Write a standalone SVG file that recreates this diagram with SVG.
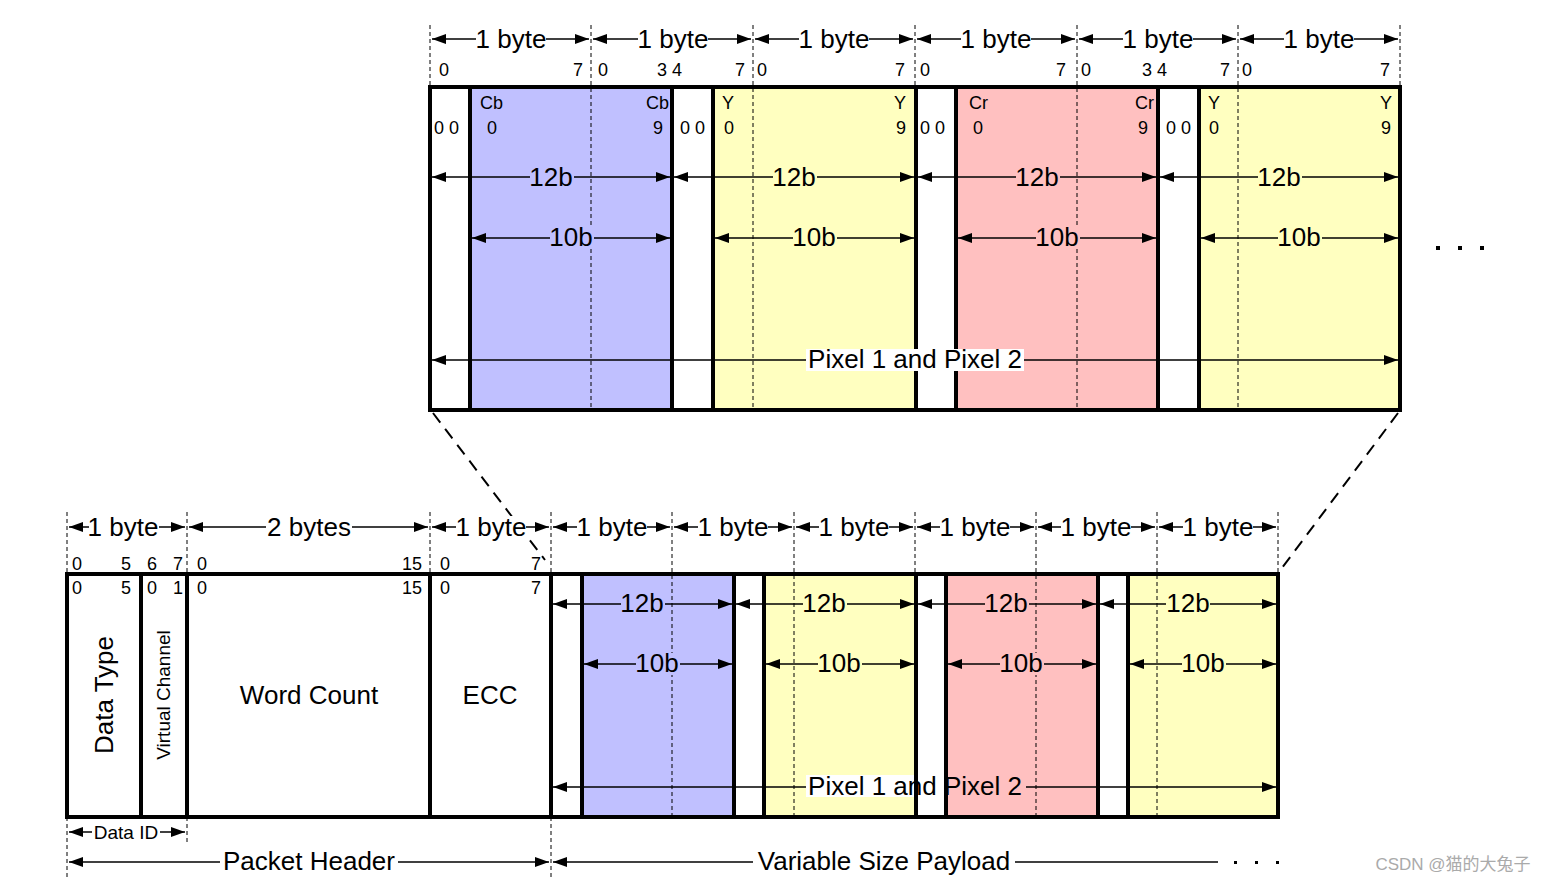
<svg xmlns="http://www.w3.org/2000/svg" width="1553" height="883" viewBox="0 0 1553 883">
<style>
text{font-family:"Liberation Sans",Arial,sans-serif;fill:#000}
.b{font-size:26px;text-anchor:middle}
.s{font-size:18px}
.m{text-anchor:middle}
.e{text-anchor:end}
.box{fill:none;stroke:#000;stroke-width:4}
.sep{stroke:#000;stroke-width:4}
.dash{stroke:#000;stroke-width:1;stroke-dasharray:4,3}
.arr{stroke:#000;stroke-width:1.3;fill:none;marker-start:url(#a);marker-end:url(#a)}
.bl{fill:#c0c0ff}.ye{fill:#ffffc0}.pk{fill:#ffc0c0}.wh{fill:#fff}
</style>
<defs>
<marker id="a" viewBox="0 0 14 10" refX="14" refY="5" markerWidth="14" markerHeight="10" markerUnits="userSpaceOnUse" orient="auto-start-reverse"><path d="M0,0L14,5L0,10z" fill="#000"/></marker>
</defs>

<g id="top-packet">
<rect class="bl" x="470" y="87" width="202" height="323"/>
<rect class="ye" x="713" y="87" width="203" height="323"/>
<rect class="pk" x="956" y="87" width="202" height="323"/>
<rect class="ye" x="1199" y="87" width="201" height="323"/>
<g class="dash">
<line x1="430" y1="25" x2="430" y2="87"/><line x1="591" y1="25" x2="591" y2="410"/><line x1="753" y1="25" x2="753" y2="410"/><line x1="915" y1="25" x2="915" y2="87"/><line x1="1077" y1="25" x2="1077" y2="410"/><line x1="1238" y1="25" x2="1238" y2="410"/><line x1="1400" y1="25" x2="1400" y2="87"/>
</g>
<rect class="box" x="430" y="87" width="970" height="323"/>
<g class="sep"><line x1="470" y1="87" x2="470" y2="410"/><line x1="672" y1="87" x2="672" y2="410"/><line x1="713" y1="87" x2="713" y2="410"/><line x1="916" y1="87" x2="916" y2="410"/><line x1="956" y1="87" x2="956" y2="410"/><line x1="1158" y1="87" x2="1158" y2="410"/><line x1="1199" y1="87" x2="1199" y2="410"/></g>
<g class="s">
<text x="439" y="76">0</text><text x="573" y="76">7</text><text x="598" y="76">0</text><text x="657" y="76">3 4</text><text x="735" y="76">7</text><text x="757" y="76">0</text><text x="895" y="76">7</text><text x="920" y="76">0</text><text x="1056" y="76">7</text><text x="1081" y="76">0</text><text x="1142" y="76">3 4</text><text x="1220" y="76">7</text><text x="1242" y="76">0</text><text x="1380" y="76">7</text>
<text x="434" y="134">0 0</text><text x="680" y="134">0 0</text><text x="920" y="134">0 0</text><text x="1166" y="134">0 0</text>
<text x="480" y="109">Cb</text><text x="487" y="134">0</text><text x="669" y="109" class="e">Cb</text><text x="663" y="134" class="e">9</text>
<text x="722" y="109">Y</text><text x="724" y="134">0</text><text x="906" y="109" class="e">Y</text><text x="906" y="134" class="e">9</text>
<text x="969" y="109">Cr</text><text x="973" y="134">0</text><text x="1154" y="109" class="e">Cr</text><text x="1148" y="134" class="e">9</text>
<text x="1208" y="109">Y</text><text x="1209" y="134">0</text><text x="1392" y="109" class="e">Y</text><text x="1391" y="134" class="e">9</text>
</g>
<g fill="#000"><rect x="1436" y="246" width="4" height="4"/><rect x="1458" y="246" width="4" height="4"/><rect x="1480" y="246" width="4" height="4"/></g>
</g>

<g id="bottom-packet">
<rect class="bl" x="582" y="574" width="152" height="243"/>
<rect class="ye" x="764" y="574" width="152" height="243"/>
<rect class="pk" x="946" y="574" width="152" height="243"/>
<rect class="ye" x="1128" y="574" width="150" height="243"/>
<g class="dash">
<line x1="67" y1="512" x2="67" y2="574"/><line x1="187" y1="512" x2="187" y2="574"/><line x1="430" y1="512" x2="430" y2="574"/><line x1="551" y1="512" x2="551" y2="574"/><line x1="672" y1="512" x2="672" y2="817"/><line x1="794" y1="512" x2="794" y2="817"/><line x1="915" y1="512" x2="915" y2="574"/><line x1="1036" y1="512" x2="1036" y2="817"/><line x1="1157" y1="512" x2="1157" y2="817"/><line x1="1278" y1="512" x2="1278" y2="574"/>
<line x1="67" y1="817" x2="67" y2="880"/><line x1="187" y1="817" x2="187" y2="845"/><line x1="551" y1="817" x2="551" y2="880"/>
</g>
<rect class="box" x="67" y="574" width="1211" height="243"/>
<g class="sep"><line x1="141" y1="574" x2="141" y2="817"/><line x1="187" y1="574" x2="187" y2="817"/><line x1="430" y1="574" x2="430" y2="817"/><line x1="551" y1="574" x2="551" y2="817"/><line x1="582" y1="574" x2="582" y2="817"/><line x1="734" y1="574" x2="734" y2="817"/><line x1="764" y1="574" x2="764" y2="817"/><line x1="916" y1="574" x2="916" y2="817"/><line x1="946" y1="574" x2="946" y2="817"/><line x1="1098" y1="574" x2="1098" y2="817"/><line x1="1128" y1="574" x2="1128" y2="817"/></g>
<g class="s">
<text x="72" y="570">0</text><text x="121" y="570">5</text><text x="147" y="570">6</text><text x="173" y="570">7</text><text x="197" y="570">0</text><text x="402" y="570">15</text><text x="440" y="570">0</text><text x="531" y="570">7</text>
<text x="72" y="594">0</text><text x="121" y="594">5</text><text x="147" y="594">0</text><text x="173" y="594">1</text><text x="197" y="594">0</text><text x="402" y="594">15</text><text x="440" y="594">0</text><text x="531" y="594">7</text>
</g>
<text transform="translate(113,695) rotate(-90)" class="b">Data Type</text>
<text transform="translate(170,695) rotate(-90)" class="m" style="font-size:19px">Virtual Channel</text>
<text x="309" y="704" class="b">Word Count</text>
<text x="490" y="704" class="b">ECC</text>
<g fill="#000"><rect x="1234" y="861" width="3" height="3"/><rect x="1255" y="861" width="3" height="3"/><rect x="1276" y="861" width="3" height="3"/></g>
<text x="1453" y="870" class="m" style="font-size:17px;fill:#aaa;font-family:'Liberation Sans','Noto Sans CJK SC',sans-serif">CSDN @猫的大兔子</text>
</g>

<g id="connectors">
<g class="arr">
<line x1="432" y1="39" x2="589" y2="39"/><line x1="593" y1="39" x2="751" y2="39"/><line x1="755" y1="39" x2="913" y2="39"/><line x1="917" y1="39" x2="1075" y2="39"/><line x1="1079" y1="39" x2="1236" y2="39"/><line x1="1240" y1="39" x2="1398" y2="39"/>
<line x1="432" y1="177" x2="670" y2="177"/><line x1="674" y1="177" x2="914" y2="177"/><line x1="918" y1="177" x2="1156" y2="177"/><line x1="1160" y1="177" x2="1398" y2="177"/>
<line x1="472" y1="238" x2="670" y2="238"/><line x1="715" y1="238" x2="914" y2="238"/><line x1="958" y1="238" x2="1156" y2="238"/><line x1="1201" y1="238" x2="1398" y2="238"/>
<line x1="432" y1="360" x2="1398" y2="360"/>
<line x1="69" y1="527" x2="185" y2="527"/><line x1="189" y1="527" x2="428" y2="527"/><line x1="432" y1="527" x2="549" y2="527"/><line x1="553" y1="527" x2="670" y2="527"/><line x1="674" y1="527" x2="792" y2="527"/><line x1="796" y1="527" x2="913" y2="527"/><line x1="917" y1="527" x2="1034" y2="527"/><line x1="1038" y1="527" x2="1155" y2="527"/><line x1="1159" y1="527" x2="1276" y2="527"/>
<line x1="553" y1="604" x2="732" y2="604"/><line x1="736" y1="604" x2="914" y2="604"/><line x1="918" y1="604" x2="1096" y2="604"/><line x1="1100" y1="604" x2="1276" y2="604"/>
<line x1="584" y1="664" x2="732" y2="664"/><line x1="766" y1="664" x2="914" y2="664"/><line x1="948" y1="664" x2="1096" y2="664"/><line x1="1130" y1="664" x2="1276" y2="664"/>
<line x1="553" y1="787" x2="1276" y2="787"/>
<line x1="69" y1="832" x2="185" y2="832"/>
<line x1="69" y1="862" x2="549" y2="862"/>
</g>
<line x1="553" y1="862" x2="1218" y2="862" stroke="#000" stroke-width="1.3" marker-start="url(#a)"/>
<line x1="433" y1="413" x2="545" y2="560" stroke="#000" stroke-width="2" stroke-dasharray="12,8"/>
<line x1="1398" y1="413" x2="1282" y2="568" stroke="#000" stroke-width="2" stroke-dasharray="12,8"/>
</g>

<g id="connector-labels">
<g class="wh">
<rect x="476" y="28" width="70" height="22"/><rect x="638" y="28" width="70" height="22"/><rect x="799" y="28" width="70" height="22"/><rect x="961" y="28" width="70" height="22"/><rect x="1123" y="28" width="70" height="22"/><rect x="1284" y="28" width="70" height="22"/>
<rect x="806" y="349" width="218" height="22"/>
<rect x="89" y="516" width="70" height="22"/><rect x="266" y="516" width="86" height="22"/><rect x="456" y="516" width="70" height="22"/><rect x="577" y="516" width="70" height="22"/><rect x="698" y="516" width="70" height="22"/><rect x="819" y="516" width="70" height="22"/><rect x="940" y="516" width="70" height="22"/><rect x="1061" y="516" width="70" height="22"/><rect x="1183" y="516" width="70" height="22"/>
<rect x="92" y="823" width="68" height="18"/>
<rect x="220" y="851" width="178" height="22"/><rect x="753" y="851" width="262" height="22"/>
<rect x="806" y="775" width="108" height="22"/><rect x="918" y="775" width="26" height="22"/>
</g>
<g class="bl"><rect x="530" y="166" width="44" height="22"/><rect x="550" y="227" width="44" height="22"/><rect x="621" y="593" width="44" height="22"/><rect x="636" y="653" width="44" height="22"/></g>
<g class="ye"><rect x="773" y="166" width="44" height="22"/><rect x="793" y="227" width="44" height="22"/><rect x="1258" y="166" width="44" height="22"/><rect x="1278" y="227" width="44" height="22"/><rect x="803" y="593" width="44" height="22"/><rect x="818" y="653" width="44" height="22"/><rect x="1166" y="593" width="44" height="22"/><rect x="1182" y="653" width="44" height="22"/></g>
<g class="pk"><rect x="1016" y="166" width="44" height="22"/><rect x="1036" y="227" width="44" height="22"/><rect x="985" y="593" width="44" height="22"/><rect x="1000" y="653" width="44" height="22"/><rect x="948" y="775" width="78" height="22"/></g>
<g class="b">
<text x="511" y="48">1 byte</text><text x="673" y="48">1 byte</text><text x="834" y="48">1 byte</text><text x="996" y="48">1 byte</text><text x="1158" y="48">1 byte</text><text x="1319" y="48">1 byte</text>
<text x="551" y="186">12b</text><text x="794" y="186">12b</text><text x="1037" y="186">12b</text><text x="1279" y="186">12b</text>
<text x="571" y="246">10b</text><text x="814" y="246">10b</text><text x="1057" y="246">10b</text><text x="1299" y="246">10b</text>
<text x="915" y="368">Pixel 1 and Pixel 2</text>
<text x="123" y="536">1 byte</text><text x="309" y="536">2 bytes</text><text x="491" y="536">1 byte</text><text x="612" y="536">1 byte</text><text x="733" y="536">1 byte</text><text x="854" y="536">1 byte</text><text x="975" y="536">1 byte</text><text x="1096" y="536">1 byte</text><text x="1218" y="536">1 byte</text>
<text x="642" y="612">12b</text><text x="824" y="612">12b</text><text x="1006" y="612">12b</text><text x="1188" y="612">12b</text>
<text x="657" y="672">10b</text><text x="839" y="672">10b</text><text x="1021" y="672">10b</text><text x="1203" y="672">10b</text>
<text x="915" y="795">Pixel 1 and Pixel 2</text>
<text x="309" y="870">Packet Header</text><text x="884" y="870">Variable Size Payload</text>
</g>
<text x="126" y="839" class="m" style="font-size:19px">Data ID</text>
</g>
</svg>
